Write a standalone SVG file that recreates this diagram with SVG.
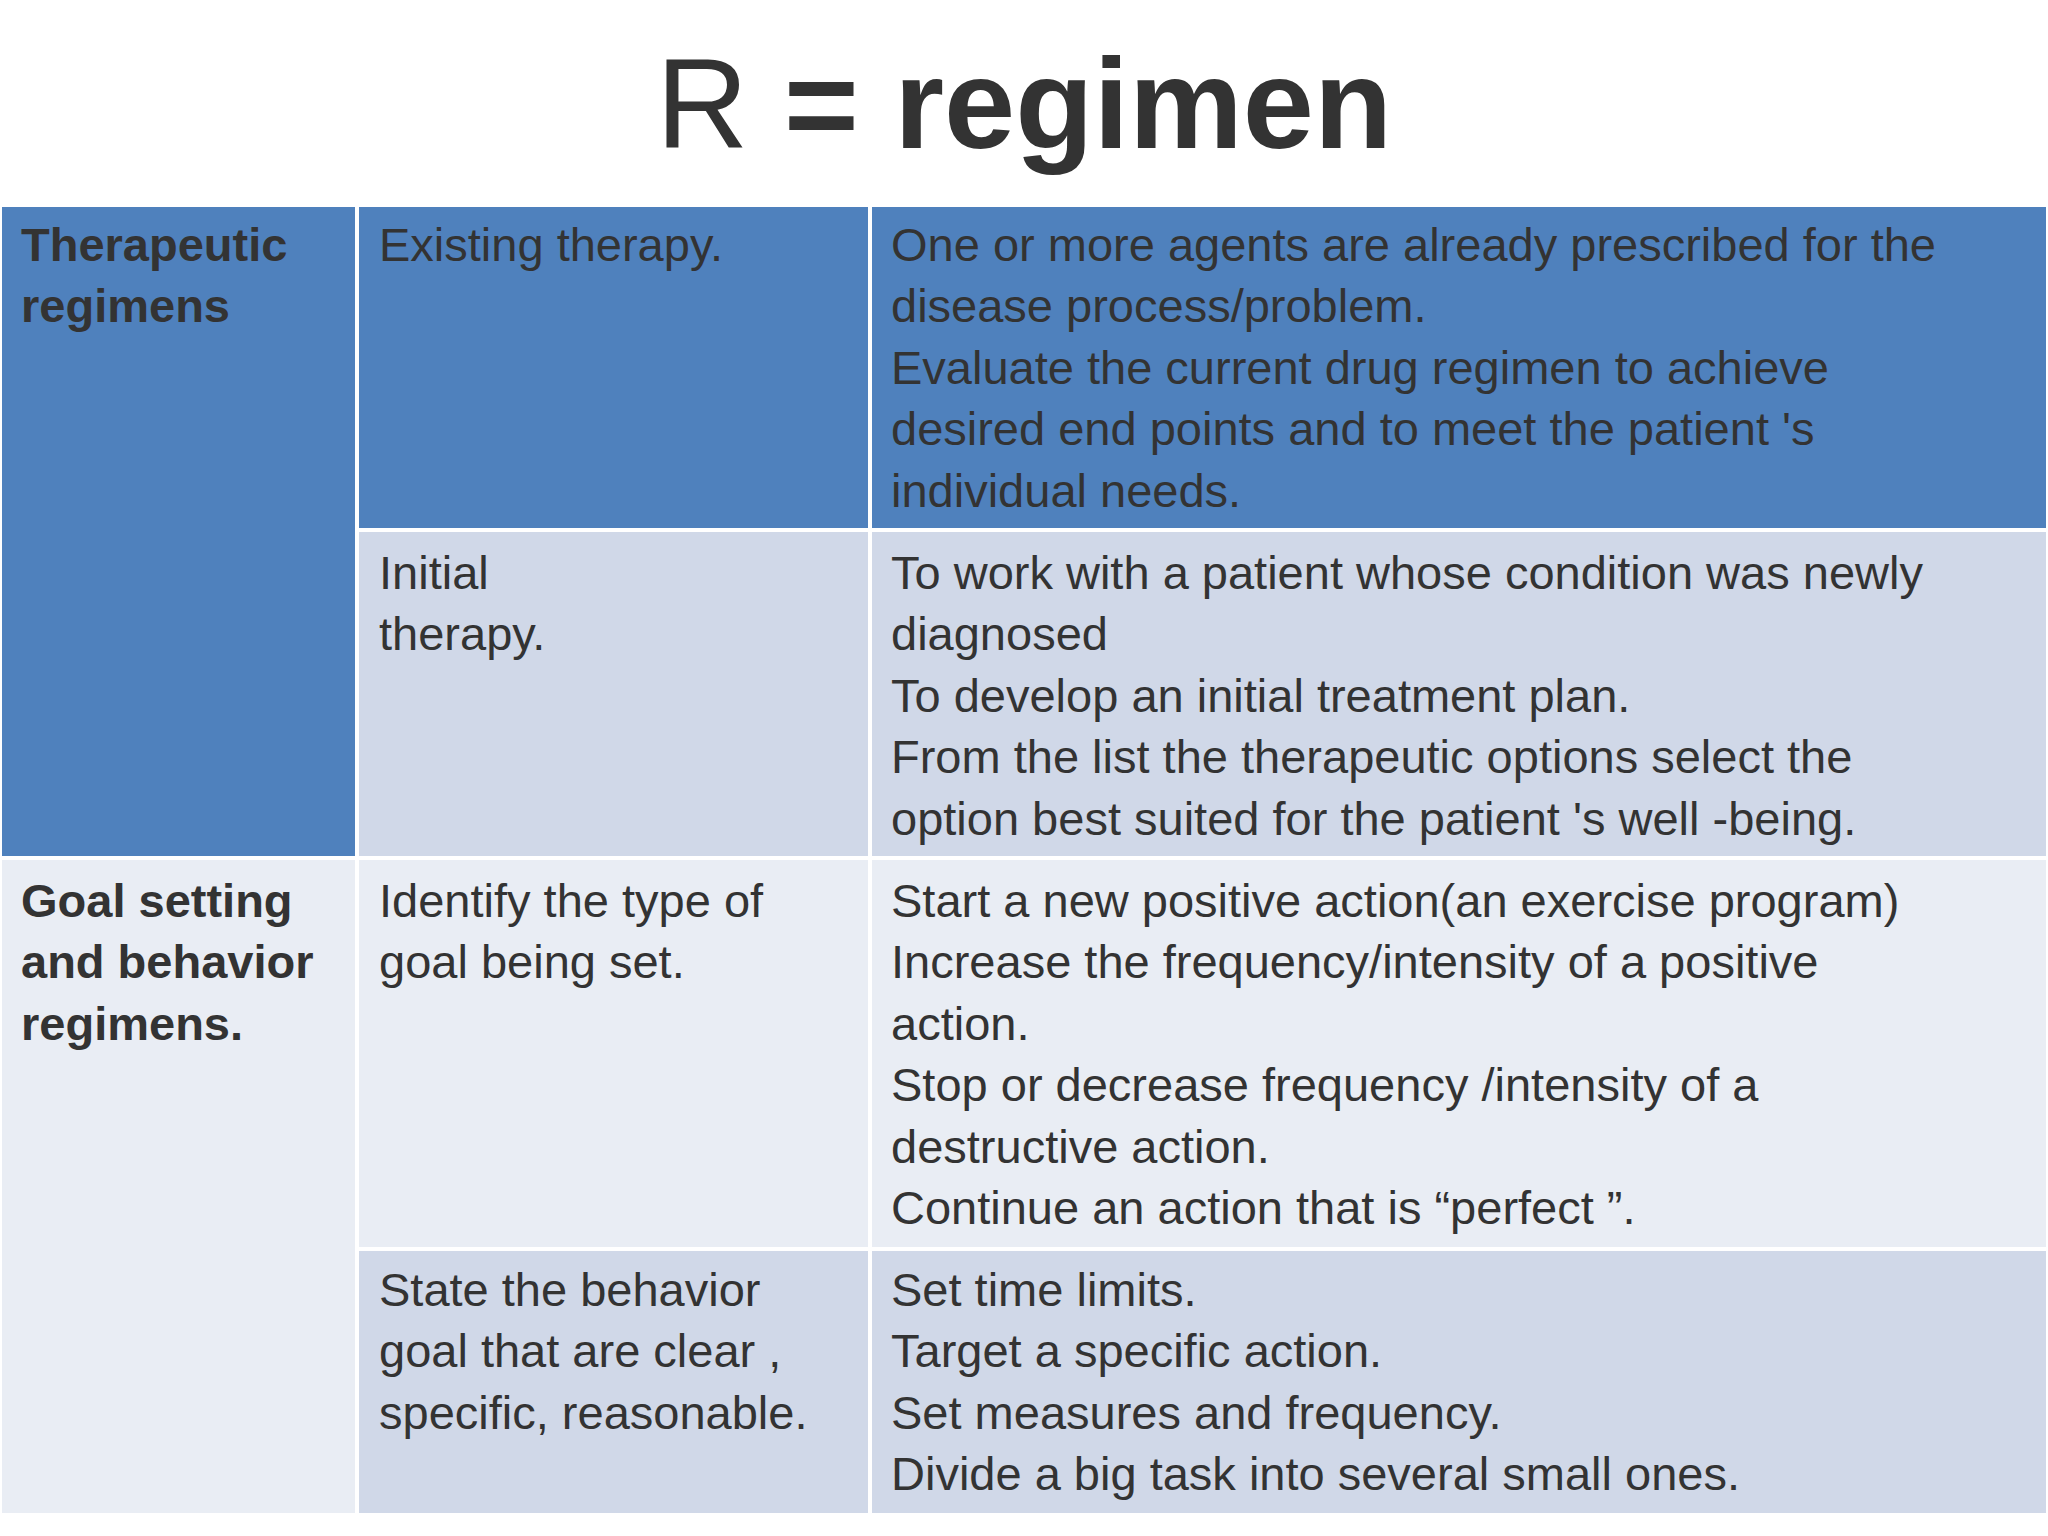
<svg xmlns="http://www.w3.org/2000/svg" width="2048" height="1536" viewBox="0 0 2048 1536">
<style>
.t{font-family:"Liberation Sans",Arial,sans-serif;font-size:47px;fill:#333}
.b{font-weight:bold}
.d{fill:#4F81BD}.m{fill:#D0D8E8}.l{fill:#E9EDF4}
</style>
<rect width="2048" height="1536" fill="#fff"/>
<text x="1024" y="148" text-anchor="middle" font-family="Liberation Sans,Arial,sans-serif" font-size="128" fill="#333"><tspan>R </tspan><tspan font-weight="bold">= regimen</tspan></text>
<g id="table" stroke="#fff" stroke-width="4">
<rect class="d" x="0" y="205" width="357" height="653"/>
<rect class="d" x="357" y="205" width="513" height="325"/>
<rect class="d" x="870" y="205" width="1178" height="325"/>
<rect class="m" x="357" y="530" width="513" height="328"/>
<rect class="m" x="870" y="530" width="1178" height="328"/>
<rect class="l" x="0" y="858" width="357" height="657"/>
<rect class="l" x="357" y="858" width="513" height="391"/>
<rect class="l" x="870" y="858" width="1178" height="391"/>
<rect class="m" x="357" y="1249" width="513" height="266"/>
<rect class="m" x="870" y="1249" width="1178" height="266"/>
</g>
<g id="texts">
<text class="t b" x="21" y="261">Therapeutic<tspan x="21" dy="61.4">regimens</tspan></text>
<text class="t" x="379" y="261">Existing therapy.</text>
<text class="t" x="891" y="261">One or more agents are already prescribed for the<tspan x="891" dy="61.4">disease process/problem.</tspan><tspan x="891" dy="61.4">Evaluate the current drug regimen to achieve</tspan><tspan x="891" dy="61.4">desired end points and to meet the patient 's</tspan><tspan x="891" dy="61.4">individual needs.</tspan></text>
<text class="t" x="379" y="589">Initial<tspan x="379" dy="61.4">therapy.</tspan></text>
<text class="t" x="891" y="589">To work with a patient whose condition was newly<tspan x="891" dy="61.4">diagnosed</tspan><tspan x="891" dy="61.4">To develop an initial treatment plan.</tspan><tspan x="891" dy="61.4">From the list the therapeutic options select the</tspan><tspan x="891" dy="61.4">option best suited for the patient 's well -being.</tspan></text>
<text class="t b" x="21" y="917">Goal setting<tspan x="21" dy="61.4">and behavior</tspan><tspan x="21" dy="61.4">regimens.</tspan></text>
<text class="t" x="379" y="917">Identify the type of<tspan x="379" dy="61.4">goal being set.</tspan></text>
<text class="t" x="891" y="917">Start a new positive action(an exercise program)<tspan x="891" dy="61.4">Increase the frequency/intensity of a positive</tspan><tspan x="891" dy="61.4">action.</tspan><tspan x="891" dy="61.4">Stop or decrease frequency /intensity of a</tspan><tspan x="891" dy="61.4">destructive action.</tspan><tspan x="891" dy="61.4">Continue an action that is “perfect ”.</tspan></text>
<text class="t" x="379" y="1306">State the behavior<tspan x="379" dy="61.4">goal that are clear ,</tspan><tspan x="379" dy="61.4">specific, reasonable.</tspan></text>
<text class="t" x="891" y="1306">Set time limits.<tspan x="891" dy="61.4">Target a specific action.</tspan><tspan x="891" dy="61.4">Set measures and frequency.</tspan><tspan x="891" dy="61.4">Divide a big task into several small ones.</tspan></text>
</g>
</svg>
